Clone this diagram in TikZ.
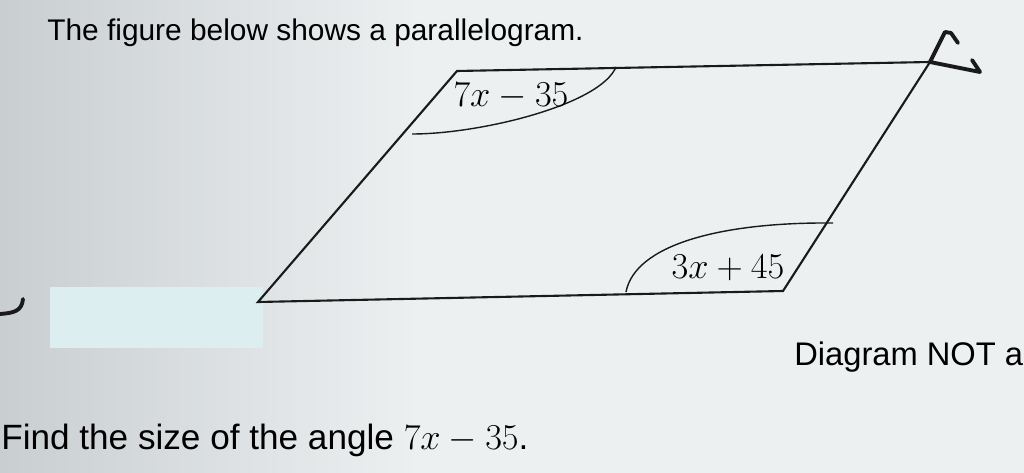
\documentclass[tikz,border=0pt]{standalone}
\usepackage{fontspec}
\setmainfont{Liberation Sans}
\definecolor{paper}{HTML}{EDF0F1}
\definecolor{shadow}{HTML}{C9CED1}
\definecolor{tape}{HTML}{DDEEF0}
\definecolor{ink}{HTML}{1A1A1A}
\tikzset{
  side/.style={draw=ink,line width=1.2pt},
  anglearc/.style={draw=ink,line width=0.8pt},
  pen/.style={draw=ink,line width=2.2pt,line cap=round,line join=round},
  angletext/.style={font=\fontsize{20.5}{24}\selectfont},
  question/.style={anchor=west,inner sep=0pt,font=\fontsize{17}{20}\selectfont}
}
\begin{document}
\begin{tikzpicture}[x=0.02cm,y=-0.02cm]
    \useasboundingbox (0,0) rectangle (1024,473);
    % photographed page
    \fill[paper] (0,0) rectangle (1024,473);
    \shade[left color=shadow,right color=paper] (0,0) rectangle (420,473);
    \fill[tape] (50,287) rectangle (263,348);

    % parallelogram
    \coordinate (TL) at (457,71);
    \coordinate (TR) at (930,62);
    \coordinate (BR) at (783,291);
    \coordinate (BL) at (258,302);
    \draw[side] (BL) -- (TL) -- (TR) -- (BR) -- cycle;

    % angle arcs
    \coordinate (topA) at (616,67);
    \coordinate (topB) at (412,134);
    \draw[anglearc] (topA) .. controls (600,105) and (480,134) .. (topB);
    \coordinate (botA) at (626,292);
    \coordinate (botB) at (833,223);
    \draw[anglearc] (botA) .. controls (635,245) and (720,222) .. (botB);

    \node[angletext] (topangle) at (511,96) {$7x-35$};
    \node[angletext] (botangle) at (728,268) {$3x+45$};

    % texts
    \node[question] (intro) at (47,33) {The figure below shows a parallelogram.};
    \node[question,font=\fontsize{18.6}{22}\selectfont] (notacc) at (794,357) {Diagram NOT a};
    \node[question,font=\fontsize{20}{24}\selectfont] (task) at (1,440) {Find the size of the angle $7x-35$.};

    % pen marks
    \draw[pen] (958,43) -- (951,33) -- (945,32) -- (TR) -- (980,72) -- (972,60);
    \draw[pen] (0,314) .. controls (12,313) and (22,312) .. (23,299);
\end{tikzpicture}
\end{document}
